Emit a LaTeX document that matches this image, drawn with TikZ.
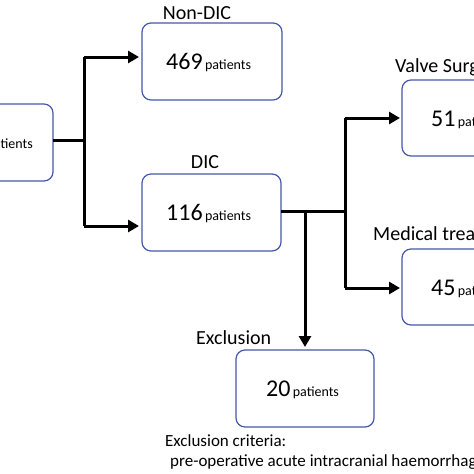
\documentclass[tikz,border=0pt]{standalone}
\usepackage{fontspec}
\setmainfont{Carlito}
\usetikzlibrary{arrows.meta}
\definecolor{boxblue}{HTML}{4558A8}
\tikzset{
  box/.style={draw=boxblue, line width=1.2pt, rounded corners=9pt},
  conn/.style={line width=3pt, black},
  arr/.style={conn, -{Triangle[length=11pt,width=12pt]}},
  lbl/.style={font=\fontsize{20}{22}\selectfont, inner sep=0pt},
  num/.style={font=\fontsize{24}{26}\selectfont, inner sep=0pt, anchor=west},
}
\newcommand{\pat}{{\fontsize{14}{16}\selectfont\,patients}}
\begin{document}
\begin{tikzpicture}[x=1pt,y=-1pt]
\useasboundingbox (0,0) rectangle (474,474);
% boxes
\draw[box] (-30,104) rectangle (53,181);
\coordinate (L) at (53,140);
\node[inner sep=0pt, anchor=east, font=\fontsize{14}{16}\selectfont] (Lt) at (33,145) {patients};
\draw[box] (142,23) rectangle (282,100);
\draw[box] (142,174) rectangle (281,251);
\draw[box] (402,80) rectangle (530,156);
\draw[box] (402,249) rectangle (530,325);
\draw[box] (236,350) rectangle (374,427);
% numbers
\node[num] (n1) at (166,63) {469\pat};
\node[num] (n2) at (166,214) {116\pat};
\node[num] (n3) at (431,120) {51\pat};
\node[num] (n4) at (431,289) {45\pat};
\node[num] (n5) at (266,390) {20\pat};
% labels
\node[lbl] (l1) at (197,13) {Non-DIC};
\node[lbl] (l2) at (205,162) {DIC};
\node[lbl, anchor=west] (l3) at (395,67) {Valve Surgery};
\node[lbl, anchor=west] (l4) at (373,234) {Medical treatment};
\node[lbl, anchor=west] (l5) at (196,338) {Exclusion};
\node[inner sep=0pt, anchor=west, font=\fontsize{17}{19}\selectfont] (c1) at (165,441) {Exclusion criteria:};
\node[inner sep=0pt, anchor=west, font=\fontsize{17}{19}\selectfont] (c2) at (170,462) {pre-operative acute intracranial haemorrhage};
% connectors
\coordinate (s1) at (84,140);
\coordinate (s1t) at (84,57);
\coordinate (s1b) at (84,226);
\coordinate (e1) at (139,57);
\coordinate (e2) at (139,226);
\draw[conn] (L) -- (s1);
\draw[conn] (s1t) -- (s1b);
\draw[arr] (s1t) -- (e1);
\draw[arr] (s1b) -- (e2);
\coordinate (D) at (281,211);
\coordinate (s2) at (345,211);
\coordinate (s2t) at (345,118);
\coordinate (s2b) at (345,288);
\coordinate (e3) at (400,118);
\coordinate (e4) at (400,288);
\coordinate (x1) at (305,211);
\coordinate (x2) at (305,347);
\draw[conn] (D) -- (s2);
\draw[conn] (s2t) -- (s2b);
\draw[arr] (s2t) -- (e3);
\draw[arr] (s2b) -- (e4);
\draw[arr] (x1) -- (x2);
\end{tikzpicture}
\end{document}
